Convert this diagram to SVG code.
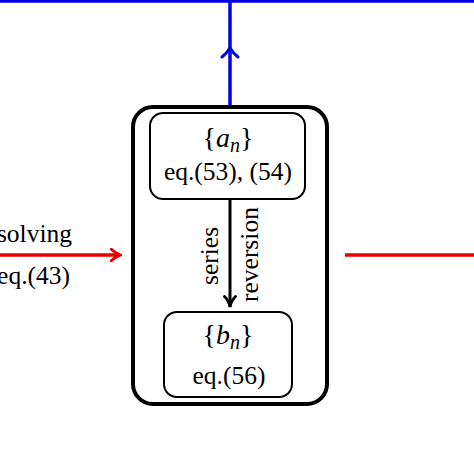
<svg xmlns="http://www.w3.org/2000/svg" width="474" height="474" viewBox="0 0 474 474">
<style>
text{font-family:"Liberation Serif","DejaVu Serif",serif;fill:#000}
.lbl{font-size:25.5px}
.math{font-size:28px}
.box{fill:#fff;stroke:#000;stroke-width:2}
</style>
<defs>
<marker id="hb" viewBox="0 0 14 14" refX="12" refY="7" markerWidth="14" markerHeight="14" markerUnits="userSpaceOnUse" orient="auto">
<path d="M1.5,1.5 Q6,6 12,7 Q6,8 1.5,12.5" fill="none" stroke="#000" stroke-width="2.8" stroke-linecap="round"/>
</marker>
<marker id="hr" viewBox="0 0 12 14" refX="10" refY="7" markerWidth="12" markerHeight="14" markerUnits="userSpaceOnUse" orient="auto">
<path d="M1,1 Q5,5 10,7 Q5,9 1,13" fill="none" stroke="#e60000" stroke-width="3" stroke-linecap="round"/>
</marker>
</defs>
<g id="connectors">
<line x1="0" y1="1" x2="474" y2="1" stroke="#0000e6" stroke-width="3.5"/>
<line x1="230" y1="1" x2="230" y2="106" stroke="#0000e6" stroke-width="3.5"/>
<path d="M222,57 Q227,53 230,48 Q233,53 238,57" fill="none" stroke="#0000e6" stroke-width="3" stroke-linecap="round"/>
<line x1="0" y1="255" x2="120" y2="255" stroke="#e60000" stroke-width="3.5" marker-end="url(#hr)"/>
<line x1="345" y1="255" x2="474" y2="255" stroke="#e60000" stroke-width="3.5"/>
<text class="lbl" x="72" y="242" text-anchor="end">solving</text>
<text class="lbl" x="70" y="284" text-anchor="end">eq.(43)</text>
</g>
<g id="outer">
<rect x="133" y="107" width="194" height="297" rx="20" fill="none" stroke="#000" stroke-width="4"/>
</g>
<g id="connector-inner">
<line x1="230" y1="199" x2="230" y2="307" stroke="#000" stroke-width="3" marker-end="url(#hb)"/>
<text class="lbl" transform="translate(218,285) rotate(-90)">series</text>
<text class="lbl" transform="translate(258,302) rotate(-90)">reversion</text>
</g>
<g id="node-a">
<rect class="box" x="150" y="113" width="155" height="86" rx="13"/>
<text class="math" x="228" y="147" text-anchor="middle">{<tspan font-style="italic">a</tspan><tspan font-style="italic" font-size="20" dy="5">n</tspan><tspan dy="-5">}</tspan></text>
<text class="lbl" x="228" y="180" text-anchor="middle">eq.(53), (54)</text>
</g>
<g id="node-b">
<rect class="box" x="164" y="312" width="128" height="85" rx="13"/>
<text class="math" x="228" y="344" text-anchor="middle">{<tspan font-style="italic">b</tspan><tspan font-style="italic" font-size="20" dy="5">n</tspan><tspan dy="-5">}</tspan></text>
<text class="lbl" x="229" y="384" text-anchor="middle">eq.(56)</text>
</g>
</svg>
